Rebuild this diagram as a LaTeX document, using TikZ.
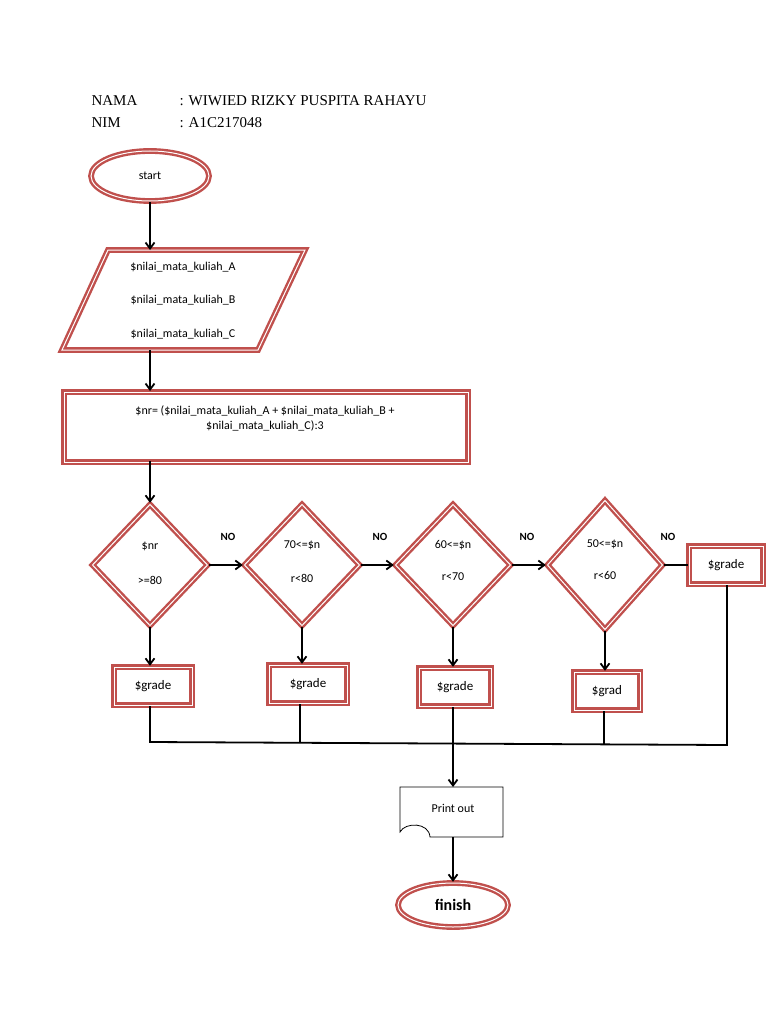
\documentclass[tikz,border=0pt]{standalone}
\usepackage{fontspec}
\setmainfont{Carlito}
\newfontfamily\serifhdr{Liberation Serif}
\usetikzlibrary{shapes.geometric,arrows.meta}
\definecolor{rb}{HTML}{C0504D}
\begin{document}
\begin{tikzpicture}[x=1pt,y=-1pt,
  dbl/.style={draw=rb,line width=2.4pt,double=white,double distance=1pt},
  arr/.style={line width=1.8pt,-{Straight Barb[length=6pt,width=9pt]}},
  ln/.style={line width=1.8pt},
  txt/.style={font=\fontsize{12}{15}\selectfont,align=center},
  dia/.style={dbl,diamond,minimum width=116pt,minimum height=122pt,inner sep=0pt},
  box/.style={dbl,rectangle,minimum width=78pt,minimum height=38pt,font=\fontsize{13}{15}\selectfont},
  nol/.style={font=\bfseries\fontsize{11}{13}\selectfont},
  hdr/.style={font=\serifhdr\fontsize{15}{17}\selectfont,anchor=west}]
\useasboundingbox (0,0) rectangle (768,1024);
\node[hdr] (h1) at (88,101) {NAMA};
\node[hdr] (h2) at (176,101) {: WIWIED RIZKY PUSPITA RAHAYU};
\node[hdr] (h3) at (88,123) {NIM};
\node[hdr] (h4) at (176,123) {: A1C217048};

\node[dbl,ellipse,minimum width=118pt,minimum height=50pt,txt] (start) at (150,176) {start};
\coordinate (intop) at (150,250);
\coordinate (inbot) at (150,350);
\draw[dbl] (108,250) -- (305,250) -- (258,350) -- (62,350) -- cycle;
\node[txt] (i1) at (183,267) {\$nilai\_mata\_kuliah\_A};
\node[txt] (i2) at (183,300) {\$nilai\_mata\_kuliah\_B};
\node[txt] (i3) at (183,334) {\$nilai\_mata\_kuliah\_C};
\node[dbl,rectangle,minimum width=404pt,minimum height=70pt,anchor=north west] (proc) at (63,391) {};
\coordinate (prtopL) at (150,391);
\coordinate (prbotL) at (150,461);
\node[txt] (p1) at (265,418) {\$nr= (\$nilai\_mata\_kuliah\_A + \$nilai\_mata\_kuliah\_B +\\\$nilai\_mata\_kuliah\_C):3};

\node[dia] (d1) at (150,565) {};
\node[txt] at (150,546) {\$nr};\node[txt] at (150,580) {>=80};
\node[dia] (d2) at (302,565) {};
\node[txt] at (302,545) {70<=\$n};\node[txt] at (302,578) {r<80};
\node[dia] (d3) at (453,565) {};
\node[txt] at (453,545) {60<=\$n};\node[txt] at (453,577) {r<70};
\node[dia,minimum height=130pt] (d4) at (605,565) {};
\node[txt] at (605,544) {50<=\$n};\node[txt] at (605,575) {r<60};

\node[nol] at (228,537) {NO};
\node[nol] at (380,537) {NO};
\node[nol] at (527,537) {NO};
\node[nol] at (668,537) {NO};

\node[box,minimum width=74pt] (g5) at (726,565) {\$grade};
\node[box] (g1) at (153,686) {\$grade};
\node[box] (g2) at (308,684) {\$grade};
\node[box,minimum width=72pt] (g3) at (455,687) {\$grade};
\node[box,minimum width=66pt] (g4) at (607,691) {\$grad};

\draw[arr] (start) -- (intop);
\draw[arr] (inbot) -- (prtopL);
\draw[arr] (prbotL) -- (d1.north);
\draw[arr] (d1.east) -- (d2.west);
\draw[arr] (d2.east) -- (d3.west);
\draw[arr] (d3.east) -- (d4.west);
\draw[ln] (d4.east) -- (g5.west);
\draw[arr] (d1.south) -- (d1.south |- g1.north);
\draw[arr] (d2.south) -- (d2.south |- g2.north);
\draw[arr] (d3.south) -- (d3.south |- g3.north);
\draw[arr] (d4.south) -- (d4.south |- g4.north);

\coordinate (b1) at (150,742);
\coordinate (b2) at (300,743);
\coordinate (b4) at (604,744);
\coordinate (b5) at (727,745);
\draw[ln] (b1 |- g1.south) -- (b1) -- (b5) -- (b5 |- g5.south);
\draw[ln] (b2 |- g2.south) -- (b2);
\draw[ln] (b4 |- g4.south) -- (b4);

\draw[line width=0.8pt] (400,787) -- (503,787) -- (503,837) -- (430,837)
  .. controls (429,822) and (405,822) .. (400,832) -- cycle;
\node[font=\fontsize{12}{14}\selectfont] (pr) at (453,808) {Print out};
\coordinate (prtop) at (453,787);
\coordinate (prbot) at (453,837);
\draw[arr] (g3.south -| prtop) -- (prtop);

\node[dbl,ellipse,minimum width=110pt,minimum height=44pt,font=\bfseries\fontsize{16}{18}\selectfont] (fin) at (453,905) {finish};
\draw[arr] (prbot) -- (fin.north);
\end{tikzpicture}
\end{document}
